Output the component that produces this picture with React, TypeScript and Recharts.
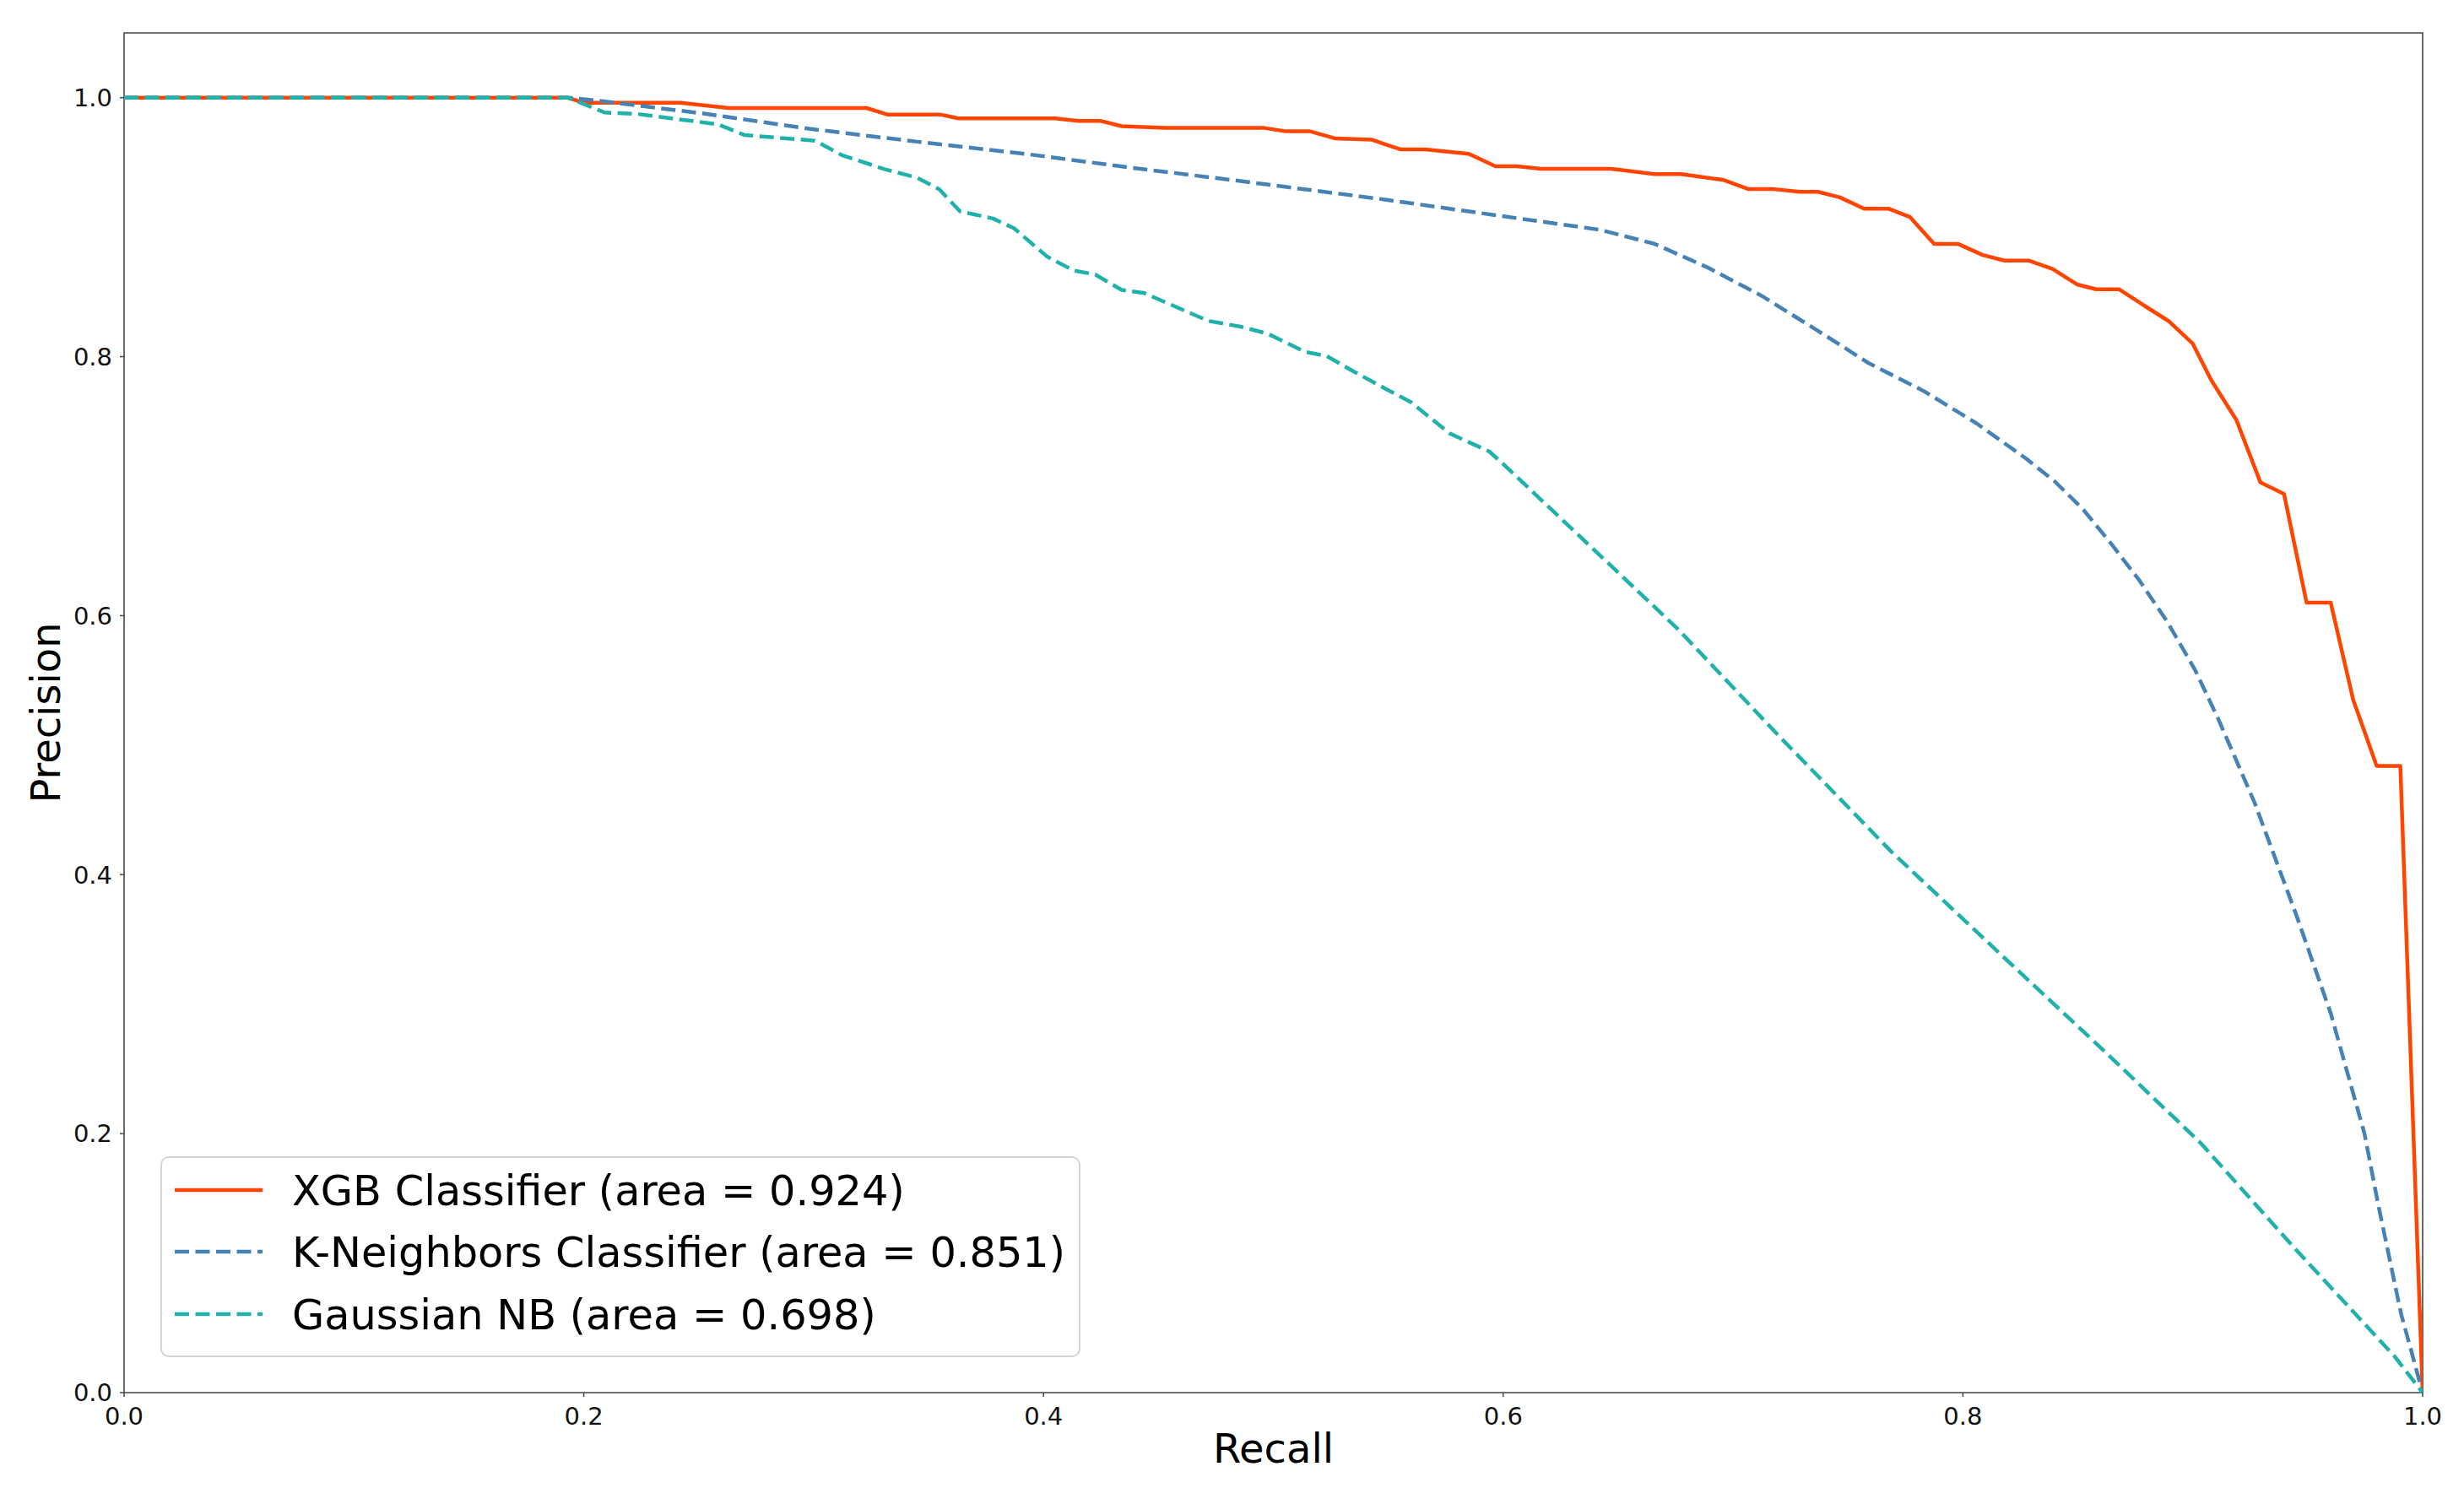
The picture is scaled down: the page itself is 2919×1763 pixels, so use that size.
import React from 'react';
import { LineChart, Line, XAxis, YAxis, Legend, ReferenceArea } from 'recharts';

// ---------- data ----------
const xgbRecall = [0, 0.193, 0.2, 0.242, 0.263, 0.323, 0.332, 0.355, 0.363, 0.405, 0.4155, 0.425, 0.434, 0.453, 0.496, 0.5055, 0.516, 0.527, 0.543, 0.5485, 0.5555, 0.566, 0.585, 0.5966, 0.606, 0.6165, 0.647, 0.6657, 0.6774, 0.696, 0.7065, 0.717, 0.729, 0.737, 0.7465, 0.757, 0.7675, 0.777, 0.7875, 0.798, 0.8086, 0.818, 0.8285, 0.839, 0.8496, 0.858, 0.868, 0.8788, 0.8894, 0.9, 0.908, 0.919, 0.9294, 0.9397, 0.9495, 0.96, 0.9698, 0.98, 0.9903, 1.0];
const xgbPrecision = [1, 1, 0.996, 0.996, 0.992, 0.992, 0.987, 0.987, 0.984, 0.984, 0.982, 0.982, 0.978, 0.9766, 0.9766, 0.974, 0.974, 0.9685, 0.9675, 0.964, 0.96, 0.96, 0.9566, 0.947, 0.947, 0.945, 0.945, 0.941, 0.941, 0.9364, 0.9295, 0.9295, 0.9273, 0.9273, 0.923, 0.9143, 0.9143, 0.9078, 0.887, 0.887, 0.8785, 0.8742, 0.8742, 0.8677, 0.8558, 0.852, 0.852, 0.8395, 0.8276, 0.81, 0.782, 0.751, 0.703, 0.694, 0.61, 0.61, 0.535, 0.484, 0.484, 0.0];

const knnRecall = [0, 0.193, 0.2046, 0.251, 0.298, 0.345, 0.392, 0.4388, 0.4857, 0.5485, 0.5953, 0.642, 0.6657, 0.689, 0.7124, 0.736, 0.759, 0.783, 0.806, 0.8277, 0.84, 0.8523, 0.8644, 0.8766, 0.889, 0.901, 0.9109, 0.9268, 0.945, 0.96, 0.9747, 0.9807, 0.9906, 1.0];
const knnPrecision = [1, 1, 0.998, 0.988, 0.976, 0.966, 0.9566, 0.9458, 0.9356, 0.9213, 0.9096, 0.898, 0.8872, 0.8688, 0.847, 0.821, 0.795, 0.7734, 0.7484, 0.721, 0.7036, 0.682, 0.6558, 0.6276, 0.595, 0.558, 0.521, 0.456, 0.369, 0.293, 0.2, 0.145, 0.061, 0.0];

const nbRecall = [0, 0.193, 0.2092, 0.2234, 0.2584, 0.27, 0.3005, 0.3123, 0.331, 0.345, 0.3545, 0.3637, 0.378, 0.3872, 0.4014, 0.413, 0.4225, 0.434, 0.4435, 0.4717, 0.4857, 0.4974, 0.5138, 0.5232, 0.535, 0.5485, 0.56, 0.5766, 0.594, 0.6003, 0.638, 0.6758, 0.72, 0.769, 0.8185, 0.861, 0.9034, 0.9456, 0.9878, 1.0];
const nbPrecision = [1, 1, 0.9885, 0.9874, 0.9794, 0.9711, 0.9668, 0.9556, 0.9447, 0.9382, 0.9295, 0.9122, 0.9067, 0.8991, 0.8775, 0.8666, 0.8634, 0.8515, 0.8493, 0.8276, 0.8232, 0.8178, 0.8037, 0.8005, 0.7885, 0.7755, 0.7647, 0.7408, 0.7267, 0.7166, 0.6534, 0.59, 0.507, 0.4175, 0.335, 0.2646, 0.1928, 0.109, 0.028, 0.0];

const seriesNames = ['XGB Classifier (area = 0.924)', 'K-Neighbors Classifier (area = 0.851)', 'Gaussian NB (area = 0.698)'];
const seriesColors = ['#FF4500', '#4682B4', '#20B2AA'];
const seriesDashed = [false, true, true];

const xTicks = [0, 0.2, 0.4, 0.6, 0.8, 1.0];
const yTicks = [0, 0.2, 0.4, 0.6, 0.8, 1.0];
const xLabel = 'Recall';
const yLabel = 'Precision';

const zip = (xs: number[], ys: number[]) => xs.map((x, i) => ({ x, y: ys[i] }));
const seriesData = [zip(xgbRecall, xgbPrecision), zip(knnRecall, knnPrecision), zip(nbRecall, nbPrecision)];

// ---------- styles ----------
const FONT = '"DejaVu Sans", "Liberation Sans", sans-serif';
const LINE_W = 4.5;
const DASH = '17 7.5';
const W = 2919;
const H = 1763;

const fmt = (v: number) => v.toFixed(1);

const XLabelContent = (props: any) => {
  const vb = props.viewBox || { x: 147, y: 1650, width: 2723, height: 113 };
  return (
    <text x={vb.x + vb.width / 2} y={vb.y + 83} textAnchor="middle" fontSize={48} fill="#000" fontFamily={FONT}>
      {xLabel}
    </text>
  );
};

const YLabelContent = (props: any) => {
  const vb = props.viewBox || { x: 0, y: 39, width: 147, height: 1611 };
  const x = vb.x + 71;
  const y = vb.y + vb.height / 2;
  return (
    <text x={x} y={y} transform={`rotate(-90 ${x} ${y})`} textAnchor="middle" fontSize={48} fill="#000" fontFamily={FONT}>
      {yLabel}
    </text>
  );
};

const LegendContent = () => {
  const rowY = [40, 113, 187];
  return (
    <svg width={1090} height={238} style={{ display: 'block' }}>
      <rect x={1} y={1} width={1088} height={236} rx={9} ry={9} fill="rgba(255,255,255,0.85)" stroke="#d4d4d4" strokeWidth={2} />
      {seriesNames.map((name, i) => (
        <g key={name}>
          <line
            x1={17}
            x2={121}
            y1={rowY[i]}
            y2={rowY[i]}
            stroke={seriesColors[i]}
            strokeWidth={LINE_W}
            strokeDasharray={seriesDashed[i] ? DASH : undefined}
          />
          <text x={156} y={rowY[i] + 18} fontSize={49.4} fill="#000" fontFamily={FONT}>
            {name}
          </text>
        </g>
      ))}
    </svg>
  );
};

export default function App() {
  return (
    <div style={{ position: 'absolute', left: 0, top: 0, width: W, height: H, background: '#fff', fontFamily: FONT }}>
      <LineChart width={W} height={H} margin={{ top: 39, right: 49, bottom: 0, left: 0 }}>
        <XAxis
          type="number"
          dataKey="x"
          domain={[0, 1]}
          ticks={xTicks}
          tickFormatter={fmt}
          height={113}
          axisLine={false}
          tickSize={5}
          tickMargin={12}
          tickLine={{ stroke: '#444', strokeWidth: 1.5 }}
          tick={{ fontSize: 29, fill: '#111', fontFamily: FONT }}
          label={XLabelContent}
          allowDataOverflow
        />
        <YAxis
          type="number"
          domain={[0, 1.05]}
          ticks={yTicks}
          tickFormatter={fmt}
          width={147}
          axisLine={false}
          tickSize={5}
          tickMargin={9}
          tickLine={{ stroke: '#444', strokeWidth: 1.5 }}
          tick={{ fontSize: 29, fill: '#111', fontFamily: FONT }}
          label={YLabelContent}
          allowDataOverflow
        />
        <ReferenceArea x1={0} x2={1} y1={0} y2={1.05} fill="none" fillOpacity={0} stroke="#444" strokeWidth={1.6} ifOverflow="visible" />
        {seriesData.map((d, i) => (
          <Line
            key={seriesNames[i]}
            data={d}
            dataKey="y"
            name={seriesNames[i]}
            type="linear"
            stroke={seriesColors[i]}
            strokeWidth={LINE_W}
            strokeDasharray={seriesDashed[i] ? DASH : undefined}
            dot={false}
            activeDot={false}
            isAnimationActive={false}
            strokeLinejoin="round"
          />
        ))}
        <Legend
          layout="vertical"
          align="center"
          verticalAlign="middle"
          content={LegendContent}
          wrapperStyle={{ left: 190, top: 1370, width: 1090, height: 238 }}
        />
      </LineChart>
    </div>
  );
}
